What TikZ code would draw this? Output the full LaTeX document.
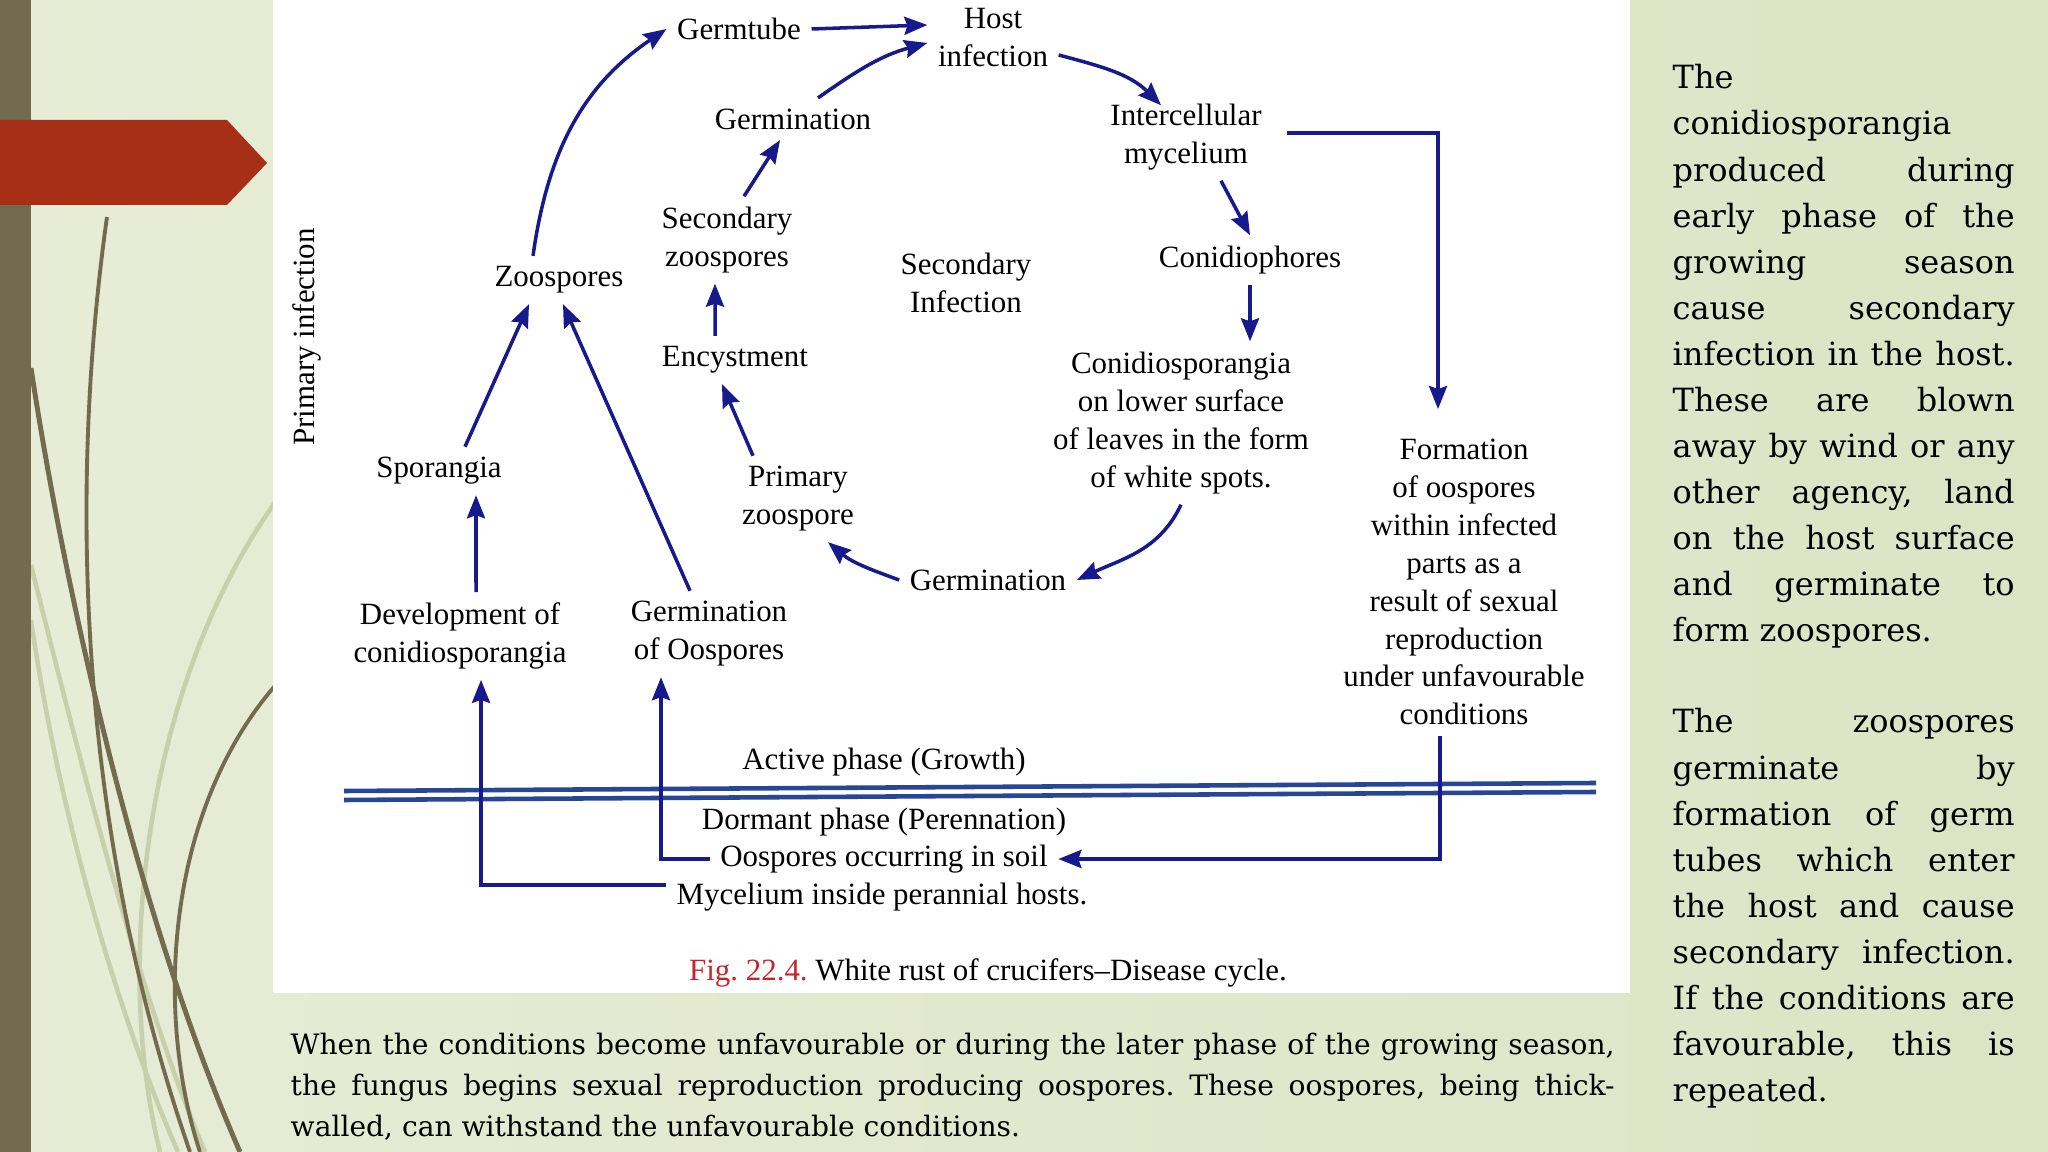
\documentclass[tikz,border=0pt]{standalone}
\usepackage{fontspec}
\setmainfont{Liberation Serif}
\newfontfamily\slidefont{DejaVu Serif}
\usetikzlibrary{positioning,calc}
\usetikzlibrary{arrows.meta}
\definecolor{FigBlue}{RGB}{22,26,140}
\definecolor{BarBlue}{RGB}{40,70,150}
\definecolor{SlideOlive}{RGB}{115,107,80}
\definecolor{CurveLight}{RGB}{200,207,172}
\definecolor{TagRed}{RGB}{166,47,22}
\definecolor{CapRed}{RGB}{200,35,40}
\definecolor{BgLeft}{RGB}{231,236,214}
\definecolor{BgRight}{RGB}{221,228,197}
\tikzset{lbl/.style={align=center,inner sep=1mm,font=\fontsize{8.8}{10.8}\selectfont},
 arr/.style={draw=FigBlue,line width=1pt,-{Stealth[length=2.3mm,width=1.8mm,inset=0.3mm]}},
 phaseline/.style={draw=BarBlue,line width=1.3pt},
 swoosh/.style={draw=SlideOlive,line width=1.1pt},
 swooshlt/.style={draw=CurveLight,line width=1.3pt},
 para/.style={align=left,inner sep=0pt,anchor=north west,font=\slidefont\fontsize{9.1}{13.09}\selectfont}}
\newcommand{\spreadline}[2][3.42cm]{\makebox[#1][s]{#2}}
\frenchspacing

\begin{document}
\begin{tikzpicture}[x=0.1mm,y=-0.1mm]
\useasboundingbox (0,0) rectangle (2048,1152);
% slide background
\shade[left color=BgLeft,right color=BgRight] (0,0) rectangle (2048,1152);
\draw[swooshlt] (300,470) .. controls (150,650) and (110,950) .. (160,1152);
\draw[swooshlt] (31,565) .. controls (80,760) and (140,1000) .. (205,1152);
\draw[swooshlt] (31,620) .. controls (60,820) and (120,1020) .. (178,1152);
\draw[swoosh] (107,217) .. controls (70,480) and (75,820) .. (190,1152);
\draw[swoosh,line width=1.4pt] (31,368) .. controls (60,560) and (130,900) .. (240,1152);
\draw[swoosh] (300,660) .. controls (170,780) and (150,1000) .. (200,1152);
\fill[SlideOlive] (0,0) rectangle (31,1152);
\fill[TagRed] (0,120) -- (227,120) -- (267,163) -- (227,205) -- (0,205) -- cycle;
\fill[white] (273,0) rectangle (1630,993);

% figure labels
\node[lbl] (germtube) at (739,29) {Germtube};
\node[lbl] (host) at (993,38) {Host\\infection};
\node[lbl] (germtop) at (793,119) {Germination};
\node[lbl] (intercell) at (1186,137) {Intercellular\\mycelium};
\node[lbl] (seczoo) at (727,240) {Secondary\\zoospores};
\node[lbl] (secinf) at (966,283) {Secondary\\Infection};
\node[lbl] (conidioph) at (1250,260) {Conidiophores};
\node[lbl] (zoospores) at (559,280) {Zoospores};
\node[lbl] (encyst) at (735,360) {Encystment};
\node[lbl] (conidiosp) at (1181,423) {Conidiosporangia\\on lower surface\\of leaves in the form\\of white spots.};
\node[lbl,rotate=90] (priminf) at (307,337) {Primary infection};
\node[lbl] (sporangia) at (439,471) {Sporangia};
\node[lbl] (primzoo) at (798,499) {Primary\\zoospore};
\node[lbl] (formation) at (1464,582) {Formation\\of oospores\\within infected\\parts as a\\result of sexual\\reproduction\\under unfavourable\\conditions};
\node[lbl] (germbot) at (988,580) {Germination};
\node[lbl] (develop) at (460,636) {Development of\\conidiosporangia};
\node[lbl] (germoosp) at (709,634) {Germination\\of Oospores};
\node[lbl] (active) at (884,762) {Active phase (Growth)};
\node[lbl] (dormant) at (884,822) {Dormant phase (Perennation)};
\node[lbl] (oosoil) at (884,859) {Oospores occurring in soil};
\node[lbl] (mycel) at (882,897) {Mycelium inside perannial hosts.};
\node[lbl] (caption) at (988,973) {\textcolor{CapRed}{Fig. 22.4.} White rust of crucifers--Disease cycle.};

% phase divider
\draw[phaseline] (344,791) -- (1596,783);
\draw[phaseline] (344,800) -- (1596,792);

% cycle arrows
\draw[arr] ([xshift=-2.6mm]zoospores.north) to[out=82,in=214] (germtube.west);
\draw[arr] (germtube.east) -- ([yshift=1.3mm]host.west);
\draw[arr] ([xshift=2.5mm]germtop.north) to[out=35,in=195] ([yshift=-0.5mm]host.west);
\draw[arr] ([yshift=-1.7mm]host.east) to[out=-15,in=135] ([xshift=-2.5mm,yshift=-1.2mm]intercell.north);
\draw[arr] ([xshift=3.5mm]intercell.south) -- (conidioph.north);
\draw[arr] (conidioph.south) -- (conidioph.south |- conidiosp.north);
\draw[arr] (conidiosp.south) to[out=-115,in=25] (germbot.east);
\draw[arr] (germbot.west) to[out=160,in=-40] ([xshift=3mm]primzoo.south);
\draw[arr] ([xshift=-4.5mm]primzoo.north) -- ([xshift=-1.3mm]encyst.south);
\draw[arr] ([xshift=-2mm]encyst.north) -- ([xshift=-1.2mm]seczoo.south);
\draw[arr] ([xshift=1.7mm]seczoo.north) -- ([xshift=-1.3mm]germtop.south);
\draw[arr] ([xshift=2.6mm]sporangia.north) -- ([xshift=-3mm]zoospores.south);
\draw[arr] ([xshift=-1.9mm]germoosp.north) -- ([xshift=0.4mm]zoospores.south);
\draw[arr] ([xshift=1.6mm]develop.north) -- ([xshift=3.7mm]sporangia.south);
\draw[arr] ([xshift=1.5mm,yshift=0.4mm]intercell.east) -| ([xshift=-2.6mm,yshift=1.9mm]formation.north);
\draw[arr] ([xshift=-2.4mm]formation.south) |- (oosoil.east);
\draw[arr] (oosoil.west) -| ([xshift=-4.8mm]germoosp.south);
\draw[arr] ([yshift=1.2mm]mycel.west) -| ([xshift=2.1mm]develop.south);

% slide text
\node[para] (rtexta) at (1672,64) {The\\conidiosporangia\\\spreadline{produced during}\\\spreadline{early phase of the}\\\spreadline{growing season}\\\spreadline{cause secondary}\\\spreadline{infection in the host.}\\\spreadline{These are blown}\\\spreadline{away by wind or any}\\\spreadline{other agency, land}\\\spreadline{on the host surface}\\\spreadline{and germinate to}\\form zoospores.};
\node[para] (rtextb) at (1672,708) {\spreadline{The zoospores}\\\spreadline{germinate by}\\\spreadline{formation of germ}\\\spreadline{tubes which enter}\\\spreadline{the host and cause}\\\spreadline{secondary infection.}\\\spreadline{If the conditions are}\\\spreadline{favourable, this is}\\repeated.};
\node[para,font=\slidefont\fontsize{8}{11.67}\selectfont] (btext) at (290,1032) {\spreadline[13.24cm]{When the conditions become unfavourable or during the later phase of the growing season,}\\\spreadline[13.24cm]{the fungus begins sexual reproduction producing oospores. These oospores, being thick-}\\walled, can withstand the unfavourable conditions.};
\end{tikzpicture}
\end{document}
